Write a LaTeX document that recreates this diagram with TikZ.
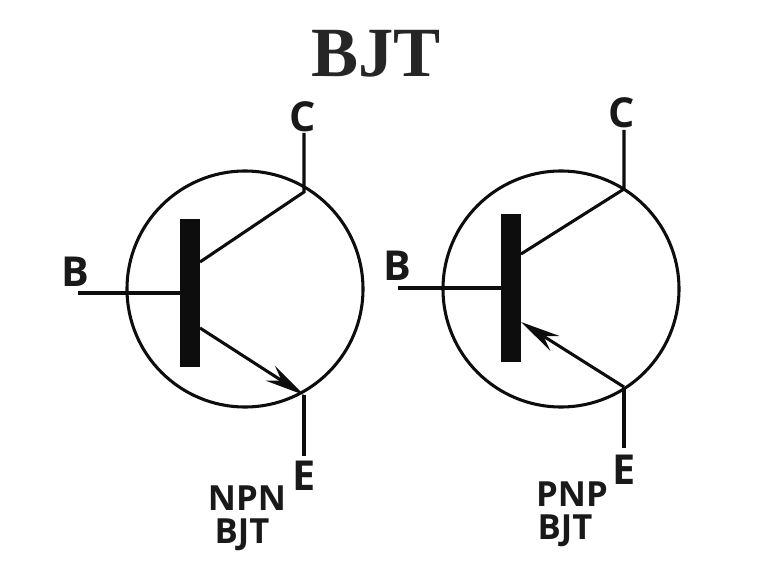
\documentclass[tikz,border=0pt]{standalone}
\usepackage{fontspec}
\setmainfont{Open Sans}
\newfontfamily\titlefont{Liberation Serif}
\usetikzlibrary{arrows.meta}
\tikzset{
    wire/.style={line width=2.3pt, color=black!95},
    barbase/.style={fill=black!95, draw=none, minimum width=0.528cm, minimum height=3.907cm, inner sep=0pt},
    pinlabel/.style={font=\bfseries\fontsize{31}{33}\selectfont, color=black!90, inner sep=0pt},
    typelabel/.style={font=\bfseries\fontsize{26}{28}\selectfont, color=black!90, inner sep=0pt},
    bigtip/.style={-{Stealth[length=30pt,width=13pt,inset=10pt]}},
}
\begin{document}
\begin{tikzpicture}[x=0.0264cm,y=-0.0264cm]
    \useasboundingbox (0,0) rectangle (768,568);
    \fill[white] (0,0) rectangle (768,568);
    \node [font=\titlefont\bfseries\fontsize{53}{55}\selectfont, color=black!85, inner sep=0pt] (title) at (376,54) {BJT};
    % NPN
    \coordinate (O) at (245,289);
    \draw [wire] (O) circle (118);
    \node [barbase] (nbar) at (190,293) {};
    \coordinate (nc) at (304,192);
    \coordinate (ne) at (304,395);
    \coordinate (nbin) at (78,293);
    \coordinate (nct) at (304,133);
    \coordinate (net) at (304,456);
    \coordinate (nbc) at (200,262);
    \coordinate (nbe) at (200,328);
    \draw [wire] (nbin) -- (nbar.west);
    \draw [wire] (nbc) -- (nc) -- (nct);
    \draw [wire] (ne) -- (net);
    \draw [wire, bigtip] (nbe) -- (ne);
    \node [pinlabel] (nlc) at (303,117) {C};
    \node [pinlabel] (nlb) at (75,272) {B};
    \node [pinlabel] (nle) at (304,476) {E};
    \node [typelabel] (ntype) at (247,498) {NPN};
    \node [typelabel] (ntypeb) at (242,535) {BJT};
    % PNP
    \coordinate (Q) at (561,289);
    \draw [wire] (Q) circle (118);
    \node [barbase] (pbar) at (511,288) {};
    \coordinate (pc) at (624,189);
    \coordinate (pe) at (624,387);
    \coordinate (pbin) at (398,288);
    \coordinate (pct) at (624,130);
    \coordinate (pet) at (624,448);
    \coordinate (pbc) at (521,254);
    \coordinate (pbe) at (521,322);
    \draw [wire] (pbin) -- (pbar.west);
    \draw [wire] (pbc) -- (pc) -- (pct);
    \draw [wire] (pe) -- (pet);
    \draw [wire, bigtip] (pe) -- (pbe);
    \node [pinlabel] (plc) at (622,113) {C};
    \node [pinlabel] (plb) at (397,266) {B};
    \node [pinlabel] (ple) at (624,470) {E};
    \node [typelabel] (ptype) at (572,494) {PNP};
    \node [typelabel] (ptypeb) at (565,531) {BJT};
\end{tikzpicture}
\end{document}
